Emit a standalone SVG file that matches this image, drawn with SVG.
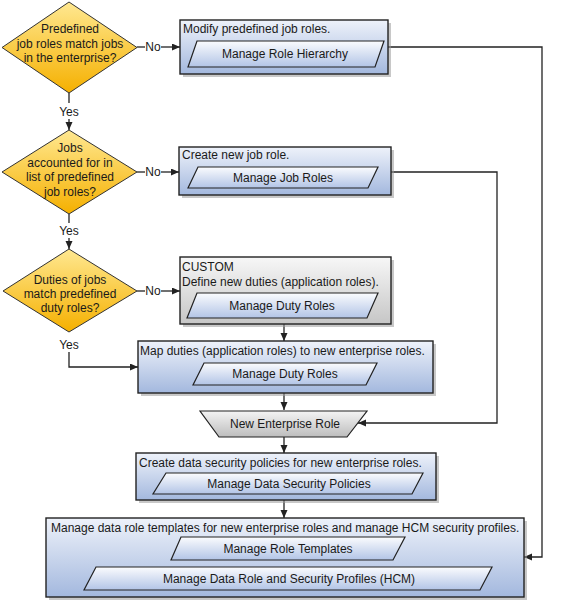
<svg xmlns="http://www.w3.org/2000/svg" width="573" height="601" viewBox="0 0 573 601">
<defs>
<linearGradient id="gBox" x1="0" y1="0" x2="0" y2="1"><stop offset="0" stop-color="#eef2fa"/><stop offset="1" stop-color="#a3b8de"/></linearGradient>
<linearGradient id="gPar" x1="0" y1="0" x2="0" y2="1"><stop offset="0" stop-color="#fbfcfe"/><stop offset="1" stop-color="#b2c4e6"/></linearGradient>
<linearGradient id="gGray" x1="0" y1="0" x2="0" y2="1"><stop offset="0" stop-color="#f7f7f7"/><stop offset="1" stop-color="#c6c6c6"/></linearGradient>
<linearGradient id="gTrap" x1="0" y1="0" x2="0" y2="1"><stop offset="0" stop-color="#f4f4f4"/><stop offset="1" stop-color="#bdbdbd"/></linearGradient>
<linearGradient id="gYel" x1="0" y1="0" x2="0" y2="1"><stop offset="0" stop-color="#ffe891"/><stop offset="1" stop-color="#f5b000"/></linearGradient>
<marker id="arr" markerUnits="userSpaceOnUse" markerWidth="9" markerHeight="8" refX="8" refY="3.5" orient="auto"><path d="M0,0 L8,3.5 L0,7 z" fill="#222"/></marker>
</defs>
<style>
text{font-family:"Liberation Sans",Arial,sans-serif;font-size:12px;fill:#1a1a1a}
.c{text-anchor:middle}
.box{fill:url(#gBox);stroke:#222;stroke-width:1.4}
.gray{fill:url(#gGray);stroke:#222;stroke-width:1.4}
.shd{fill:#9a9a9a;opacity:0.55}
.par{fill:url(#gPar);stroke:#222;stroke-width:1.2}
.dia{fill:url(#gYel);stroke:#333;stroke-width:1}
.trap{fill:url(#gTrap);stroke:#222;stroke-width:1.2}
.ln{fill:none;stroke:#222;stroke-width:1.3}
.a{marker-end:url(#arr)}
</style>
<g id="connectors">
<path class="ln" d="M137,47 H145"/><path class="ln a" d="M161,47 H180"/>
<text x="153" y="51" class="c">No</text>
<path class="ln" d="M69,93 V103"/><path class="ln a" d="M69,119 V130"/>
<text x="69" y="116" class="c">Yes</text>
<path class="ln" d="M137,172 H145"/><path class="ln a" d="M161,172 H179"/>
<text x="153" y="176" class="c">No</text>
<path class="ln" d="M69,214 V223"/><path class="ln a" d="M69,238 V249"/>
<text x="69" y="235" class="c">Yes</text>
<path class="ln" d="M137,291 H145"/><path class="ln a" d="M161,291 H180"/>
<text x="153" y="295" class="c">No</text>
<text x="69" y="349" class="c">Yes</text>
<path class="ln a" d="M69,352 V367 H138"/>
<path class="ln a" d="M284,324 V341"/>
<path class="ln a" d="M284,393 V410"/>
<path class="ln a" d="M284,437 V453"/>
<path class="ln a" d="M284,500 V518"/>
<path class="ln a" d="M388,47 H542 V557 H524"/>
<path class="ln a" d="M391,172 H497 V423 H358"/>
</g>
<g id="d1">
<polygon class="dia" points="69,2 137,47.5 69,93 2,47.5"/>
<text x="70" y="33" class="c">Predefined</text>
<text x="70" y="47.5" class="c">job roles match jobs</text>
<text x="70" y="62" class="c">in the enterprise?</text>
</g>
<g id="d2">
<polygon class="dia" points="69,130 137,172 69,214 2,172"/>
<text x="70" y="152" class="c">Jobs</text>
<text x="70" y="166.5" class="c">accounted for in</text>
<text x="70" y="181" class="c">list of predefined</text>
<text x="70" y="195.5" class="c">job roles?</text>
</g>
<g id="d3">
<polygon class="dia" points="69,249 137,291 69,332 3,291"/>
<text x="70" y="284" class="c">Duties of jobs</text>
<text x="70" y="298" class="c">match predefined</text>
<text x="70" y="312" class="c">duty roles?</text>
</g>
<g id="b1">
<rect class="shd" x="183" y="23" width="208" height="54"/>
<rect class="box" x="180" y="20" width="208" height="54"/>
<text x="183" y="33">Modify predefined job roles.</text>
<polygon class="par" points="197,41 384,41 375,67 188,67"/>
<text x="285" y="58" class="c">Manage Role Hierarchy</text>
</g>
<g id="b2">
<rect class="shd" x="182" y="150" width="212" height="48"/>
<rect class="box" x="179" y="147" width="212" height="48"/>
<text x="182" y="159">Create new job role.</text>
<polygon class="par" points="198,167 378,167 368,188 188,188"/>
<text x="283" y="182" class="c">Manage Job Roles</text>
</g>
<g id="b3">
<rect class="shd" x="183" y="260" width="211" height="67"/>
<rect class="gray" x="180" y="257" width="211" height="67"/>
<text x="182" y="271">CUSTOM</text>
<text x="182" y="286">Define new duties (application roles).</text>
<polygon class="par" points="197,293 378,293 367,318 187,318"/>
<text x="282" y="310" class="c">Manage Duty Roles</text>
</g>
<g id="b4">
<rect class="shd" x="141" y="344" width="295" height="52"/>
<rect class="box" x="138" y="341" width="295" height="52"/>
<text x="140" y="355">Map duties (application roles) to new enterprise roles.</text>
<polygon class="par" points="204,363 377,363 366,385 193,385"/>
<text x="285" y="378" class="c">Manage Duty Roles</text>
</g>
<g id="t1">
<polygon class="trap" points="200,411 367,411 347,437 219,437"/>
<text x="285" y="428" class="c">New Enterprise Role</text>
</g>
<g id="b5">
<rect class="shd" x="139" y="456" width="300" height="47"/>
<rect class="box" x="136" y="453" width="300" height="47"/>
<text x="139" y="467">Create data security policies for new enterprise roles.</text>
<polygon class="par" points="166,473 423,473 412,494 153,494"/>
<text x="289" y="488" class="c">Manage Data Security Policies</text>
</g>
<g id="b6">
<rect class="shd" x="49" y="521" width="478" height="79"/>
<rect class="box" x="46" y="518" width="478" height="79"/>
<text x="51" y="532">Manage data role templates for new enterprise roles and manage HCM security profiles.</text>
<polygon class="par" points="181,537 405,537 393,560 171,560"/>
<text x="288" y="553" class="c">Manage Role Templates</text>
<polygon class="par" points="96,567 492,567 480,590 84,590"/>
<text x="289" y="583" class="c">Manage Data Role and Security Profiles (HCM)</text>
</g>
</svg>
